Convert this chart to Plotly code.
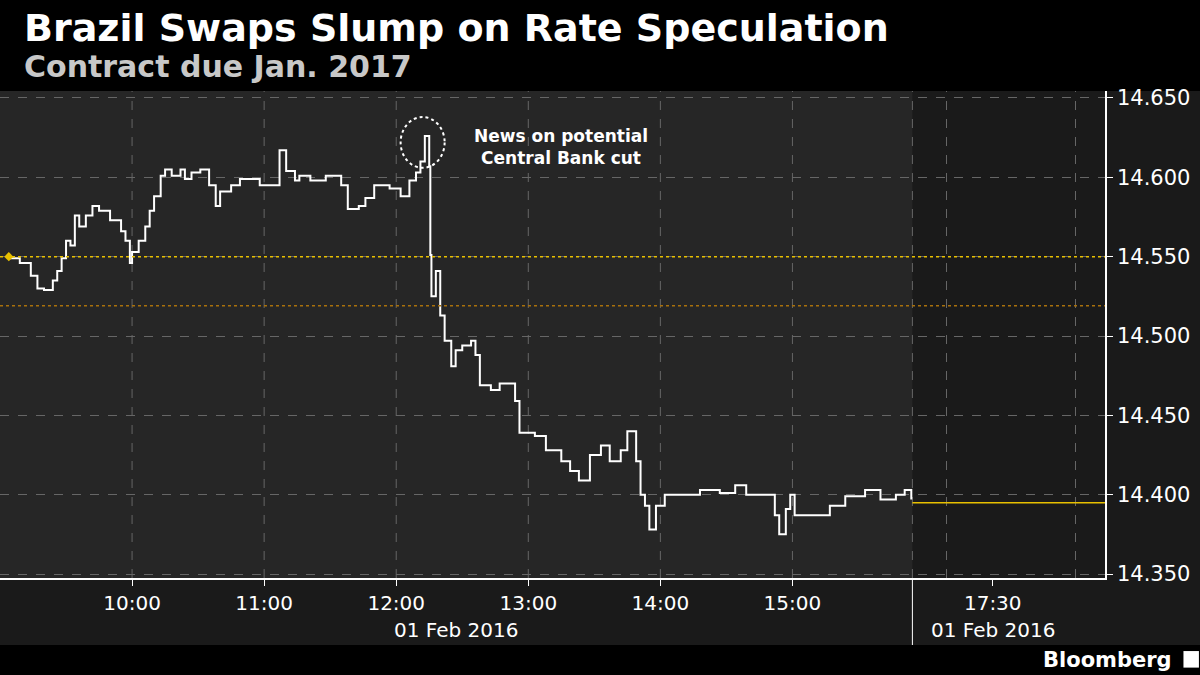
import plotly.graph_objects as go

# minutes after 09:00 and swap rate
minutes = [4, 9, 14, 17, 20, 24, 26, 28, 30, 32, 34, 36, 39, 42, 45, 50, 55, 57, 59,
           60, 63, 66, 68, 70, 73, 75, 78, 82, 84, 87, 91, 95, 98, 100, 105, 109, 118,
           125, 127, 130, 134, 136, 141, 148, 155, 158, 163, 166, 170, 177, 182, 186,
           189, 191, 193, 195, 195.5, 196, 198, 200, 202, 205, 207, 210, 214, 216, 218,
           223, 227, 234, 236, 243, 248, 255, 259, 263, 268, 273, 277, 282, 285, 289,
           291, 293, 295, 298, 302, 309, 318, 327, 334, 339, 350, 352, 354, 357, 359,
           361, 368, 377, 384, 393, 400, 407, 411, 414]
rate = [14.549, 14.546, 14.538, 14.530, 14.529, 14.535, 14.541, 14.549, 14.560, 14.557,
        14.576, 14.569, 14.576, 14.582, 14.579, 14.573, 14.566, 14.560, 14.546,
        14.553, 14.560, 14.569, 14.579, 14.588, 14.601, 14.605, 14.601, 14.605, 14.599,
        14.603, 14.605, 14.595, 14.582, 14.591, 14.595, 14.599, 14.595,
        14.595, 14.617, 14.604, 14.598, 14.601, 14.598, 14.601, 14.595, 14.580, 14.582,
        14.587, 14.595, 14.593, 14.588, 14.598,
        14.603, 14.610, 14.626, 14.607, 14.551, 14.525, 14.541, 14.513, 14.497, 14.481,
        14.491, 14.494, 14.497, 14.488, 14.469,
        14.466, 14.470, 14.459, 14.439, 14.437, 14.428, 14.421, 14.415, 14.409, 14.425,
        14.431, 14.421, 14.428, 14.440, 14.421,
        14.400, 14.393, 14.378, 14.393, 14.400, 14.400, 14.403, 14.401, 14.406, 14.400,
        14.400, 14.387, 14.375, 14.391, 14.400,
        14.387, 14.387, 14.393, 14.399, 14.403, 14.397, 14.400, 14.403, 14.397]

x_ticks = [60, 120, 180, 240, 300, 360, 451]
x_labels = ["10:00", "11:00", "12:00", "13:00", "14:00", "15:00", "17:30"]
y_ticks = [14.35, 14.40, 14.45, 14.50, 14.55, 14.60, 14.65]
open_level = 14.550
prev_level = 14.519
last_level = 14.395
session_end = 414.5
x_max = 502

fig = go.Figure()
fig.add_trace(go.Scatter(x=minutes, y=rate, mode="lines", line_shape="hv",
                         line=dict(color="white", width=2), hoverinfo="skip"))
fig.add_trace(go.Scatter(x=[minutes[0]], y=[open_level], mode="markers",
                         marker=dict(color="#e8c000", size=7, symbol="diamond")))

shapes = [
    dict(type="rect", xref="paper", yref="paper", x0=0, x1=1.2, y0=-0.1376, y1=1,
         fillcolor="#1a1a1a", line_width=0, layer="below"),
    dict(type="rect", xref="x", yref="paper", x0=0, x1=session_end, y0=0, y1=1,
         fillcolor="#262626", line_width=0, layer="below"),
    dict(type="line", xref="x", yref="paper", x0=session_end, x1=session_end, y0=-0.1376, y1=0,
         line=dict(color="white", width=1)),
    dict(type="line", xref="x", yref="paper", x0=session_end, x1=session_end, y0=0, y1=1,
         line=dict(color="#666", width=1, dash="dash"), layer="below"),
    dict(type="line", xref="x", yref="y", x0=0, x1=x_max, y0=open_level, y1=open_level,
         line=dict(color="#e8c000", width=1.5, dash="dot")),
    dict(type="line", xref="x", yref="y", x0=0, x1=x_max, y0=prev_level, y1=prev_level,
         line=dict(color="#a8700c", width=1.5, dash="dot")),
    dict(type="line", xref="x", yref="y", x0=session_end, x1=x_max, y0=last_level, y1=last_level,
         line=dict(color="#e8c000", width=1.5)),
    dict(type="circle", xref="x", yref="y", x0=182, x1=202, y0=14.606, y1=14.638,
         line=dict(color="white", width=2, dash="dot")),
    dict(type="rect", xref="paper", yref="paper", x0=1.071, x1=1.085, y0=-0.184, y1=-0.150,
         fillcolor="white", line_width=0),
]
for gx in x_ticks[:-1] + [430, 488.6]:
    shapes.append(dict(type="line", xref="x", yref="paper", x0=gx, x1=gx, y0=0, y1=1,
                       line=dict(color="#666", width=1, dash="dash"), layer="below"))

fig.update_layout(
    width=1200, height=675,
    paper_bgcolor="black", plot_bgcolor="rgba(0,0,0,0)",
    margin=dict(l=0, r=95, t=91, b=97, autoexpand=False),
    showlegend=False,
    shapes=shapes,
    font=dict(family="DejaVu Sans", color="white"),
    xaxis=dict(range=[0, x_max], tickvals=x_ticks, ticktext=x_labels, showgrid=False,
               zeroline=False, showline=True, linecolor="white", linewidth=1.5,
               ticks="outside", ticklen=6, tickcolor="white",
               tickfont=dict(size=20, color="white")),
    yaxis=dict(range=[14.3475, 14.6544], side="right", tickvals=y_ticks, tickformat=".3f",
               showgrid=True, gridcolor="#666", griddash="dash", zeroline=False,
               showline=True, linecolor="white", linewidth=1.5,
               ticks="outside", ticklen=6, tickcolor="white",
               tickfont=dict(size=21, color="white")),
    annotations=[
        dict(text="<b>Brazil Swaps Slump on Rate Speculation</b>", xref="paper", yref="paper",
             x=0.02, y=1.129, xanchor="left", yanchor="middle", showarrow=False,
             font=dict(size=38, color="white")),
        dict(text="<b>Contract due Jan. 2017</b>", xref="paper", yref="paper",
             x=0.02, y=1.051, xanchor="left", yanchor="middle", showarrow=False,
             font=dict(size=30, color="#c8c8c8")),
        dict(text="<b>News on potential<br>Central Bank cut</b>", xref="x", yref="y",
             x=255, y=14.619, showarrow=False, align="center",
             font=dict(size=17, color="white")),
        dict(text="01 Feb 2016", xref="x", yref="paper", x=207, y=-0.107, yanchor="middle",
             showarrow=False, font=dict(size=20, color="white")),
        dict(text="01 Feb 2016", xref="x", yref="paper", x=451, y=-0.107, yanchor="middle",
             showarrow=False, font=dict(size=20, color="white")),
        dict(text="<b>Bloomberg</b>", xref="paper", yref="paper", x=1.062, y=-0.168,
             xanchor="right", yanchor="middle", showarrow=False,
             font=dict(size=21, color="white")),
    ],
)
fig.write_html("out.html", config={"displayModeBar": False},
               post_script="document.body.style.margin='0';")
